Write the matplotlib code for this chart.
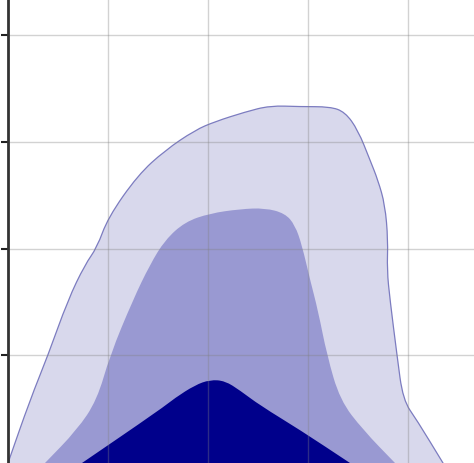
import matplotlib
matplotlib.use("Agg")
import matplotlib.pyplot as plt
from matplotlib.path import Path
from matplotlib.patches import PathPatch

# outer (lightest) region boundary
outer_x = [0.00, 0.22, 0.40, 0.60, 0.77, 0.89, 1.00, 1.30, 1.57, 1.87, 2.07, 2.37, 2.62,
           2.92, 3.22, 3.37, 3.50, 3.62, 3.70, 3.77, 3.80, 3.79, 3.82, 3.89, 3.95, 4.09, 4.35]
outer_y = [-0.01, 0.58, 1.00, 1.52, 1.85, 2.01, 2.29, 2.69, 2.92, 3.11, 3.19, 3.28, 3.34,
           3.33, 3.33, 3.28, 3.11, 2.83, 2.64, 2.41, 2.08, 1.80, 1.52, 1.00, 0.58, 0.39, -0.01]

# middle region boundary
mid_x = [0.37, 0.69, 0.89, 1.02, 1.25, 1.42, 1.57, 1.77, 2.02, 2.32, 2.57, 2.77, 2.87,
         2.94, 3.02, 3.10, 3.19, 3.32, 3.55, 3.87]
mid_y = [-0.01, 0.30, 0.58, 1.00, 1.52, 1.85, 2.08, 2.25, 2.33, 2.37, 2.38, 2.33, 2.22,
         2.03, 1.71, 1.42, 1.00, 0.58, 0.30, -0.01]

# inner (dark) region boundary
core_x = [0.74, 1.52, 1.67, 1.87, 2.02, 2.17, 2.32, 2.52, 2.92, 3.42]
core_y = [-0.01, 0.49, 0.60, 0.72, 0.77, 0.76, 0.67, 0.53, 0.30, -0.01]

ticks_x = [1, 2, 3, 4]
ticks_y = [1, 2, 3, 4]


def smooth_patch(xs, ys, base=-0.3, **kw):
    # quadratic beziers through midpoints, points used as control points
    pts = [(xs[0], base)] + list(zip(xs, ys)) + [(xs[-1], base)]
    verts = [pts[0], pts[1]]
    codes = [Path.MOVETO, Path.LINETO]
    for i in range(1, len(pts) - 2):
        mx = (pts[i][0] + pts[i + 1][0]) / 2
        my = (pts[i][1] + pts[i + 1][1]) / 2
        verts += [pts[i], (mx, my)] if i > 1 else [(mx, my)]
        codes += [Path.CURVE3, Path.CURVE3] if i > 1 else [Path.LINETO]
    verts += [pts[-2], pts[-1], pts[0]]
    codes += [Path.LINETO, Path.LINETO, Path.CLOSEPOLY]
    return PathPatch(Path(verts, codes), **kw)


fig = plt.figure(figsize=(4.74, 4.63), dpi=100)
ax = fig.add_axes([8 / 474, 0, 1 - 8 / 474, 1])

ax.add_patch(smooth_patch(outer_x, outer_y, facecolor="#d8d8ec",
                          edgecolor="#7c7cc0", linewidth=0.9, zorder=1))
ax.add_patch(smooth_patch(mid_x, mid_y, facecolor="#9999d2",
                          edgecolor="none", zorder=1.1))
ax.add_patch(smooth_patch(core_x, core_y, facecolor="#00008b",
                          edgecolor="none", zorder=1.2))

ax.set_xlim(0, 4.66)
ax.set_ylim(-0.01, 4.33)
ax.set_xticks(ticks_x)
ax.set_yticks(ticks_y)
ax.set_xticklabels([])
ax.set_yticklabels([])
ax.grid(True, color="#808080", alpha=0.35, linewidth=1.0, zorder=3)
ax.set_axisbelow(False)
ax.tick_params(axis="x", length=0)
ax.tick_params(axis="y", length=5, width=1.5, color="#222222", direction="out")
for side in ["top", "right", "bottom"]:
    ax.spines[side].set_visible(False)
ax.spines["left"].set_linewidth(2)
ax.spines["left"].set_color("#333333")
ax.spines["left"].set_zorder(4)

fig.savefig("out.png", dpi=100)
